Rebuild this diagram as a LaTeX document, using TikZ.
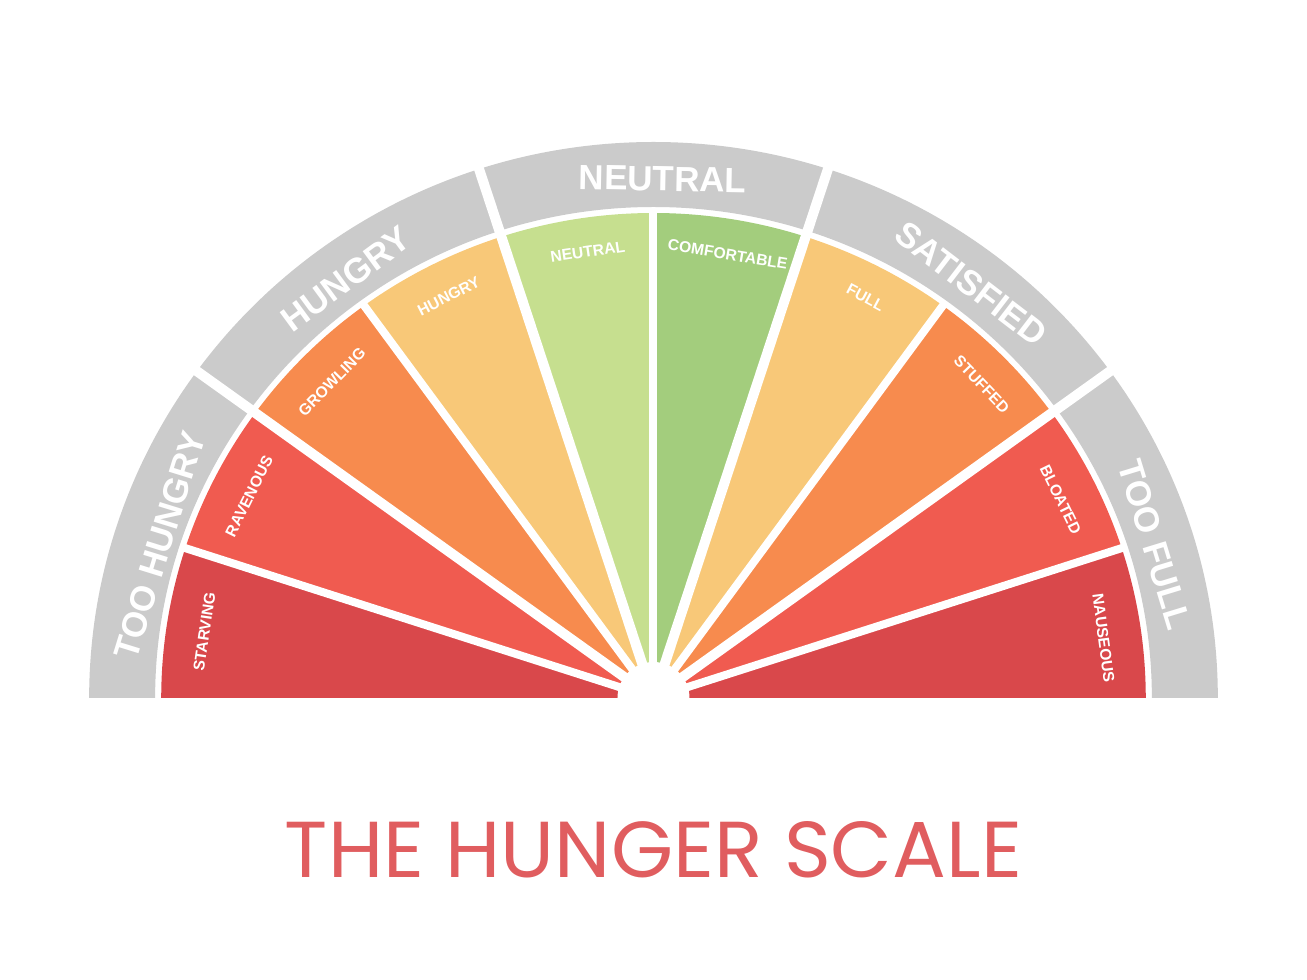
\documentclass[tikz,border=0pt]{standalone}
\usepackage{fontspec}
\usepackage{graphicx}
\setmainfont{Liberation Sans}
\newfontfamily\titlefont{Poppins}
\definecolor{cA}{HTML}{D9484B}
\definecolor{cB}{HTML}{F05B50}
\definecolor{cC}{HTML}{F78B4E}
\definecolor{cD}{HTML}{F8C878}
\definecolor{cE}{HTML}{C6DF8F}
\definecolor{cF}{HTML}{A3CD7D}
\definecolor{band}{HTML}{CBCBCB}
\definecolor{ttl}{HTML}{E05D5F}
\begin{document}
\begin{tikzpicture}[x=1.015pt,y=1pt,
  wlab/.style={text=white,font=\bfseries\fontsize{15.7}{15.7}\selectfont,inner sep=0pt},
  blab/.style={text=white,font=\bfseries\fontsize{35}{35}\selectfont,inner sep=0pt},
  wsep/.style={white,line width=8pt},
  bsep/.style={white,line width=10pt}]
\useasboundingbox (-653.5pt,-282pt) rectangle (653.5pt,698pt);
% grey band
\fill[band] (180:556) arc[start angle=180,end angle=0,radius=556] -- (0:491) arc[start angle=0,end angle=180,radius=491] -- cycle;
% coloured wedges
\foreach \a/\c in {162/cA,144/cB,126/cC,108/cD,90/cE,72/cF,54/cD,36/cC,18/cB,0/cA}
  \fill[\c] (0,0) -- (\a:485) arc[start angle=\a,delta angle=18,radius=485] -- cycle;
% separators
\foreach \a in {18,54,90,126,162} \draw[wsep] (0,0) -- (\a:488);
\foreach \a in {36,72,108,144} \draw[bsep] (0,0) -- (\a:575);
\fill[white] (0,0) circle[radius=36pt];
% wedge labels
\node[wlab,rotate=81.6]  (starving) at (171.6:454pt) {STARVING};
\node[wlab,rotate=63.5]  (ravenous) at (153.5:452pt) {RAVENOUS};
\node[wlab,rotate=45.5]  (growling) at (135.5:451pt) {GROWLING};
\node[wlab,rotate=27]    (hungry)   at (117:451pt)   {HUNGRY};
\node[wlab,rotate=8.4]   (neutral)  at (98.4:451pt)  {NEUTRAL};
\node[wlab,rotate=-9.5]  (comfort)  at (80.5:450pt)  {COMFORTABLE};
\node[wlab,rotate=-27.9] (full)     at (62.1:453pt)  {FULL};
\node[wlab,rotate=-46.3] (stuffed)  at (43.7:454pt)  {STUFFED};
\node[wlab,rotate=-64]   (bloated)  at (26:453pt)    {BLOATED};
\node[wlab,rotate=-82.4] (nauseous) at (7.6:454pt)   {NAUSEOUS};
% band labels
\node[blab,rotate=72.8]  (toohungry) at (162.8:517pt) {TOO HUNGRY};
\node[blab,rotate=36.3]  (bhungry)   at (126.3:520pt) {HUNGRY};
\node[blab,rotate=-1]    (bneutral)  at (89:519pt)    {NEUTRAL};
\node[blab,rotate=-37.5] (satisfied) at (52.5:522pt)  {SATISFIED};
\node[blab,rotate=-73]   (toofull)   at (17:524pt)    {TOO FULL};
% title
\node[text=ttl,inner sep=0pt] (title) at (0pt,-152pt) {\resizebox{737pt}{56pt}{\titlefont THE HUNGER SCALE}};
\end{tikzpicture}
\end{document}
